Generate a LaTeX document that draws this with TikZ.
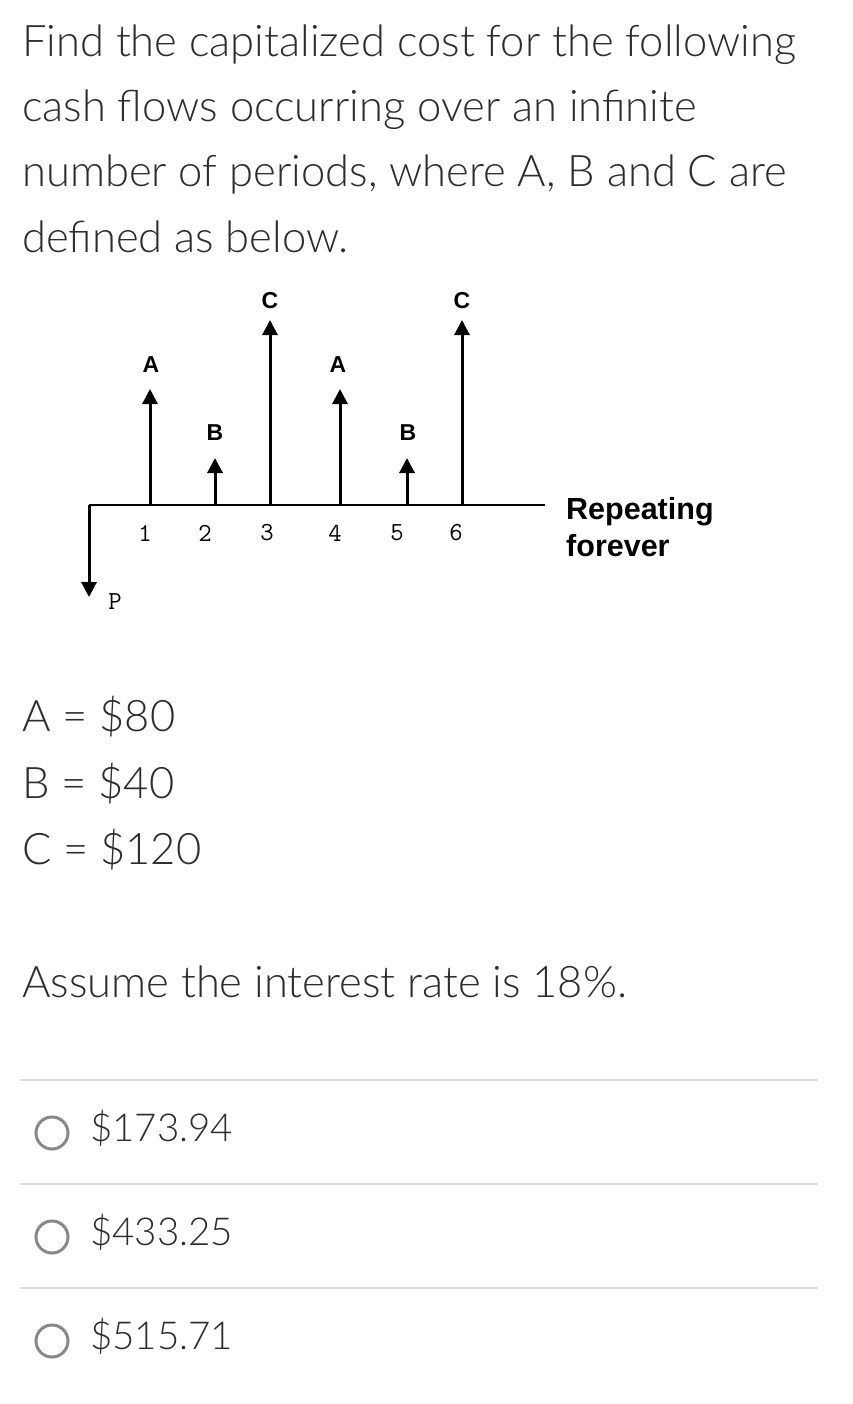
\documentclass[tikz,border=0pt]{standalone}
\usepackage{fontspec}
\setmainfont{Lato Light}
\newfontfamily\diagsans{Liberation Sans}
\usetikzlibrary{arrows.meta}
\definecolor{txt}{HTML}{2D2D2D}
\definecolor{rule}{HTML}{DDDDDD}
\definecolor{radio}{HTML}{888888}
\begin{document}
\begin{tikzpicture}[x=1pt,y=-1pt,
  body/.style={anchor=base west,inner sep=0pt,text=txt,font=\fontsize{43.5}{46}\selectfont},
  opt/.style={anchor=base west,inner sep=0pt,text=txt,font=\fontsize{38.5}{44}\selectfont},
  lbl/.style={inner sep=0pt,font=\diagsans\bfseries\fontsize{23}{24}\selectfont},
  num/.style={inner sep=0pt,font=\ttfamily\fontsize{26}{28}\selectfont},
  flow/.style={line width=3pt,-{Triangle[length=15pt,width=15pt]}},
  sep/.style={rule,line width=2.5pt},
  radiobtn/.style={circle,draw=radio,line width=3pt,minimum size=32pt,inner sep=0pt}]
\useasboundingbox[fill=white] (0,0) rectangle (852,1404);

% question text
\node[body] (q1) at (22,57) {Find the capitalized cost for the following};
\node[body] (q2) at (22,122) {cash flows occurring over an infinite};
\node[body] (q3) at (22,187) {number of periods, where A, B and C are};
\node[body] (q4) at (22,253) {defined as below.};

% cash flow diagram
\coordinate (o) at (89,505);
\coordinate (axisend) at (545,505);
\draw[line width=1.5pt] (o) -- (axisend);
\coordinate (pend) at (89,597);
\draw[flow] (o) -- (pend);
\node[num] (P) at (115,602) {P};

\coordinate (t1) at (150,505); \coordinate (h1) at (150,389);
\coordinate (t2) at (215,505); \coordinate (h2) at (215,458);
\coordinate (t3) at (270,505); \coordinate (h3) at (270,320);
\coordinate (t4) at (340,505); \coordinate (h4) at (340,389);
\coordinate (t5) at (407,505); \coordinate (h5) at (407,458);
\coordinate (t6) at (462,505); \coordinate (h6) at (462,320);
\foreach \i in {1,...,6}{\draw[flow] (t\i) -- (h\i);}

\node[lbl] (A1) at (151,365) {A};
\node[lbl] (B1) at (215,433) {B};
\node[lbl] (C1) at (270,301) {C};
\node[lbl] (A2) at (338,365) {A};
\node[lbl] (B2) at (408,433) {B};
\node[lbl] (C2) at (462,301) {C};

\node[num] (n1) at (145,533) {1};
\node[num] (n2) at (205,533) {2};
\node[num] (n3) at (267,533) {3};
\node[num] (n4) at (335,533) {4};
\node[num] (n5) at (397,533) {5};
\node[num] (n6) at (456,533) {6};

\node[anchor=west,inner sep=0pt,align=left,font=\diagsans\bfseries\fontsize{30.5}{37}\selectfont] (rep) at (566,527) {Repeating\\forever};

% values
\node[body] (va) at (22,731) {A = \$80};
\node[body] (vb) at (22,798) {B = \$40};
\node[body] (vc) at (22,864) {C = \$120};

\node[body] (assume) at (22,997) {Assume the interest rate is 18\%.};

% options
\draw[sep] (20,1080) -- (818,1080);
\draw[sep] (20,1184) -- (818,1184);
\draw[sep] (20,1288) -- (818,1288);

\node[radiobtn] (r1) at (52,1133) {};
\node[radiobtn] (r2) at (52,1237) {};
\node[radiobtn] (r3) at (52,1341) {};
\node[opt] (o1) at (90,1141) {\$173.94};
\node[opt] (o2) at (90,1245) {\$433.25};
\node[opt] (o3) at (90,1349) {\$515.71};
\end{tikzpicture}
\end{document}
